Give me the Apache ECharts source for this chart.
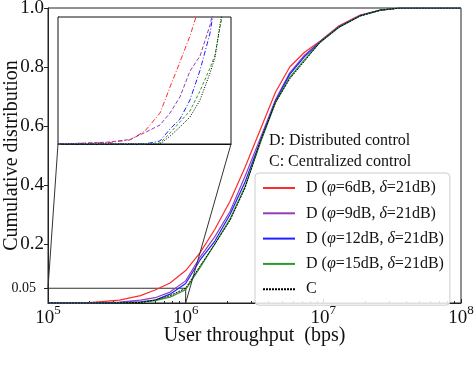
<!DOCTYPE html>
<html><head><meta charset="utf-8">
<script src="https://cdn.jsdelivr.net/npm/echarts@6/dist/echarts.min.js"></script>
<style>html,body{margin:0;padding:0;background:#fff}#c{width:474px;height:370px}</style>
</head><body><div id="c"></div>
<script>
// ---- main CDF data (throughput in bps, cumulative probability) ----
const throughput = [1e5, 2e5, 3.3e5, 4.7e5, 6e5, 7.7e5, 1e6, 1.27e6, 1.63e6, 2.1e6, 2.7e6, 3.5e6, 4.5e6, 5.7e6, 7.3e6, 9.5e6, 1.3e7, 1.85e7, 2.6e7, 3.6e7, 6e7, 1e8];
const cdfD6  = [0, 0.001, 0.01, 0.025, 0.044, 0.068, 0.11, 0.17, 0.25, 0.345, 0.46, 0.59, 0.715, 0.80, 0.85, 0.888, 0.94, 0.976, 0.993, 1.0, 1.0, 1.0];
const cdfD9  = [0, 0, 0.003, 0.01, 0.018, 0.037, 0.075, 0.155, 0.225, 0.31, 0.43, 0.56, 0.69, 0.78, 0.84, 0.887, 0.937, 0.974, 0.993, 1.0, 1.0, 1.0];
const cdfD12 = [0, 0, 0.001, 0.004, 0.01, 0.03, 0.066, 0.145, 0.21, 0.30, 0.41, 0.55, 0.685, 0.775, 0.835, 0.885, 0.936, 0.974, 0.993, 1.0, 1.0, 1.0];
const cdfD15 = [0, 0, 0, 0.002, 0.008, 0.02, 0.045, 0.12, 0.2, 0.285, 0.395, 0.545, 0.68, 0.765, 0.825, 0.884, 0.935, 0.973, 0.993, 1.0, 1.0, 1.0];
const cdfC   = [0, 0, 0, 0.002, 0.01, 0.025, 0.05, 0.125, 0.2, 0.28, 0.39, 0.55, 0.68, 0.76, 0.82, 0.885, 0.935, 0.973, 0.993, 1.0, 1.0, 1.0];

// ---- inset (zoom of lower tail) ----
const insetThroughput = [1e5, 1.53e5, 2.0e5, 2.61e5, 3.18e5, 3.89e5, 4.44e5, 5.07e5, 5.79e5, 6.62e5, 7.57e5, 8.08e5, 8.63e5, 9.23e5, 1e6];
const insetD6  = [0, 0.0004, 0.0006, 0.0016, 0.0051, 0.0122, 0.0224, 0.0323, 0.0425, 0.055, 0.065, 0.07, 0.075, 0.08, 0.085];
const insetD9  = [0, 0.0004, 0.0008, 0.0018, 0.0045, 0.0075, 0.0122, 0.0185, 0.0287, 0.0346, 0.0469, 0.056, 0.062, 0.068, 0.075];
const insetD12 = [0, 0, 0, 0, 0, 0.0012, 0.0059, 0.0098, 0.0173, 0.029, 0.0437, 0.056, 0.062, 0.068, 0.075];
const insetD15 = [0, 0, 0, 0, 0, 0.0004, 0.0043, 0.0087, 0.013, 0.0209, 0.03, 0.035, 0.0457, 0.056, 0.065];
const insetC   = [0, 0, 0, 0, 0, 0, 0.0031, 0.0067, 0.0106, 0.0173, 0.028, 0.034, 0.0469, 0.058, 0.065];

// ---- zoom region shown in the inset ----
const zoomX = [1e5, 1e6];
const zoomY = [0, 0.05];

// ---- ticks ----
const xMajorTicks = [1e5, 1e6, 1e7, 1e8];
const xMinorTicks = [2e5,3e5,4e5,5e5,6e5,7e5,8e5,9e5, 2e6,3e6,4e6,5e6,6e6,7e6,8e6,9e6, 2e7,3e7,4e7,5e7,6e7,7e7,8e7,9e7];
const insetMinorTicks = [2e5,3e5,4e5,5e5,6e5,7e5,8e5,9e5];
const yTicks = [0, 0.05, 0.2, 0.4, 0.6, 0.8, 1.0];

const seriesNames = ['D6', 'D9', 'D12', 'D15', 'C'];
const legendLabels = {
  D6:  '{g| }{n|D (}{i|φ}{n|=6dB, }{i|δ}{n|=21dB)}',
  D9:  '{g| }{n|D (}{i|φ}{n|=9dB, }{i|δ}{n|=21dB)}',
  D12: '{g| }{n|D (}{i|φ}{n|=12dB, }{i|δ}{n|=21dB)}',
  D15: '{g| }{n|D (}{i|φ}{n|=15dB, }{i|δ}{n|=21dB)}',
  C:   '{g| }{n|C}'
};
const colors = ['#ff2a2a', '#9040b8', '#2020ff', '#2a9a2a', '#000000'];
const mainData = [cdfD6, cdfD9, cdfD12, cdfD15, cdfC];
const insetData = [insetD6, insetD9, insetD12, insetD15, insetC];
const insetDash = [[5,2,1,2], [4,2], [5,2,1,2], [3,2], [1,1.5]];

const FONT = 'Liberation Serif';
const chart = echarts.init(document.getElementById('c'), null, {renderer: 'canvas'});

const series = [];
mainData.forEach((arr, k) => {
  series.push({
    name: seriesNames[k], type: 'line', xAxisIndex: 0, yAxisIndex: 0,
    data: throughput.map((x, i) => [x, arr[i]]),
    symbol: 'none', legendIcon: 'none', animation: false, z: 3 + (k === 4 ? 1 : 0),
    lineStyle: {color: colors[k], width: k === 4 ? 1 : 1.2, type: k === 4 ? [2, 1] : 'solid'},
    itemStyle: {color: colors[k]}
  });
});
mainData.forEach((arr, k) => {
  series.push({
    name: seriesNames[k] + '_inset', type: 'line', xAxisIndex: 2, yAxisIndex: 1,
    data: insetThroughput.map((x, i) => [x, insetData[k][i]]),
    symbol: 'none', animation: false, clip: true, z: 5,
    lineStyle: {color: colors[k], width: 1, type: insetDash[k]}
  });
});
series.push({
  name: 'zoomBox', type: 'line', xAxisIndex: 0, yAxisIndex: 0,
  data: [[zoomX[0], zoomY[1]], [zoomX[1], zoomY[1]], [zoomX[1], zoomY[0]]],
  symbol: 'none', animation: false, silent: true, z: 2,
  lineStyle: {color: '#333', width: 1}
});

const textGraphics = [
  {type: 'text', left: 269, top: 133, z: 10, style: {text: 'D: Distributed control', font: '16px "Liberation Serif"', fill: '#111'}},
  {type: 'text', left: 269, top: 154, z: 10, style: {text: 'C: Centralized control', font: '16px "Liberation Serif"', fill: '#111'}}
];

chart.setOption({
  animation: false,
  backgroundColor: '#fff',
  textStyle: {fontFamily: FONT},
  grid: [
    {left: 48, top: 8, width: 413, height: 295, show: true, borderColor: '#222', borderWidth: 1, backgroundColor: 'transparent', containLabel: false, outerBoundsMode: 'none'},
    {left: 58, top: 17, width: 173, height: 127, show: true, borderColor: '#111', borderWidth: 1, backgroundColor: '#fff', z: 4, containLabel: false, outerBoundsMode: 'none'}
  ],
  xAxis: [
    {
      type: 'log', logBase: 10, gridIndex: 0, min: 1e5, max: 1e8,
      name: 'User throughput  (bps)', nameLocation: 'middle', nameGap: 23, nameMoveOverlap: false,
      nameTextStyle: {fontFamily: FONT, fontSize: 20, color: '#111'},
      axisLine: {lineStyle: {color: '#222', width: 1}},
      axisTick: {inside: true, length: 4, customValues: xMajorTicks, lineStyle: {color: '#222'}},
      axisLabel: {
        customValues: xMajorTicks, margin: 1, color: '#111',
        formatter: v => '{b|10}{s|' + Math.round(Math.log10(v)) + '}',
        rich: {
          b: {fontFamily: FONT, fontSize: 19, lineHeight: 24, verticalAlign: 'bottom', color: '#111'},
          s: {fontFamily: FONT, fontSize: 13, lineHeight: 13, verticalAlign: 'top', color: '#111'}
        }
      },
      splitLine: {show: false}
    },
    {
      type: 'log', logBase: 10, gridIndex: 0, min: 1e5, max: 1e8, position: 'bottom',
      axisLine: {show: false},
      axisTick: {inside: true, length: 2, customValues: xMinorTicks, lineStyle: {color: '#222'}},
      axisLabel: {show: false}, splitLine: {show: false}
    },
    {
      type: 'log', logBase: 10, gridIndex: 1, min: zoomX[0], max: zoomX[1],
      axisLine: {lineStyle: {color: '#111', width: 1}},
      axisTick: {inside: true, length: 3, customValues: insetMinorTicks, lineStyle: {color: '#333'}},
      axisLabel: {show: false}, splitLine: {show: false}
    }
  ],
  yAxis: [
    {
      type: 'value', gridIndex: 0, min: 0, max: 1,
      name: 'Cumulative distribution', nameLocation: 'middle', nameGap: 26, nameMoveOverlap: false,
      nameTextStyle: {fontFamily: FONT, fontSize: 20, color: '#111'},
      axisLine: {show: true, lineStyle: {color: '#222', width: 1}},
      axisTick: {show: true, inside: false, length: 4, customValues: yTicks, lineStyle: {color: '#222'}},
      axisLabel: {
        customValues: yTicks, margin: 4, color: '#111', fontFamily: FONT, fontSize: 19,
        formatter: v => (Math.abs(v - 0.05) < 1e-9 ? '{s|0.05}' : v.toFixed(1)),
        rich: {s: {fontFamily: FONT, fontSize: 14, color: '#111', padding: [0, 8, 0, 0]}}
      },
      splitLine: {show: false}
    },
    {
      type: 'value', gridIndex: 1, min: zoomY[0], max: zoomY[1], interval: 0.01,
      axisLine: {show: true, lineStyle: {color: '#111', width: 1}},
      axisTick: {show: true, inside: true, length: 3, lineStyle: {color: '#333'}},
      axisLabel: {show: false}, splitLine: {show: false}
    }
  ],
  legend: {
    data: seriesNames, orient: 'vertical', left: 255, top: 173,
    padding: [7, 6, 8, 7], itemWidth: 32, itemHeight: 14, itemGap: 9.3,
    backgroundColor: 'rgba(255,255,255,0.85)', borderColor: '#cccccc', borderWidth: 1, borderRadius: 4,
    selectedMode: false, z: 10,
    itemStyle: {opacity: 0},
    formatter: name => legendLabels[name],
    textStyle: {
      fontFamily: FONT, fontSize: 16, color: '#111',
      rich: {
        g: {width: 6, fontSize: 16},
        n: {fontFamily: FONT, fontSize: 16, color: '#111'},
        i: {fontFamily: FONT, fontSize: 16, fontStyle: 'italic', color: '#111'}
      }
    }
  },
  graphic: textGraphics,
  series: series
});

// connector lines from the zoom box to the inset corners, via library conversions
const pA = chart.convertToPixel({seriesIndex: 0}, [zoomX[0], zoomY[1]]);
const pB = chart.convertToPixel({seriesIndex: 5}, [zoomX[0], zoomY[0]]);
const pC = chart.convertToPixel({seriesIndex: 0}, [zoomX[1], zoomY[0]]);
const pD = chart.convertToPixel({seriesIndex: 5}, [zoomX[1], zoomY[0]]);
chart.setOption({
  graphic: textGraphics.concat([
    {type: 'line', z: 6, shape: {x1: pA[0], y1: pA[1], x2: pB[0], y2: pB[1]}, style: {stroke: '#333', lineWidth: 1}},
    {type: 'line', z: 6, shape: {x1: pC[0], y1: pC[1], x2: pD[0], y2: pD[1]}, style: {stroke: '#333', lineWidth: 1}}
  ])
});
</script>
</body></html>
